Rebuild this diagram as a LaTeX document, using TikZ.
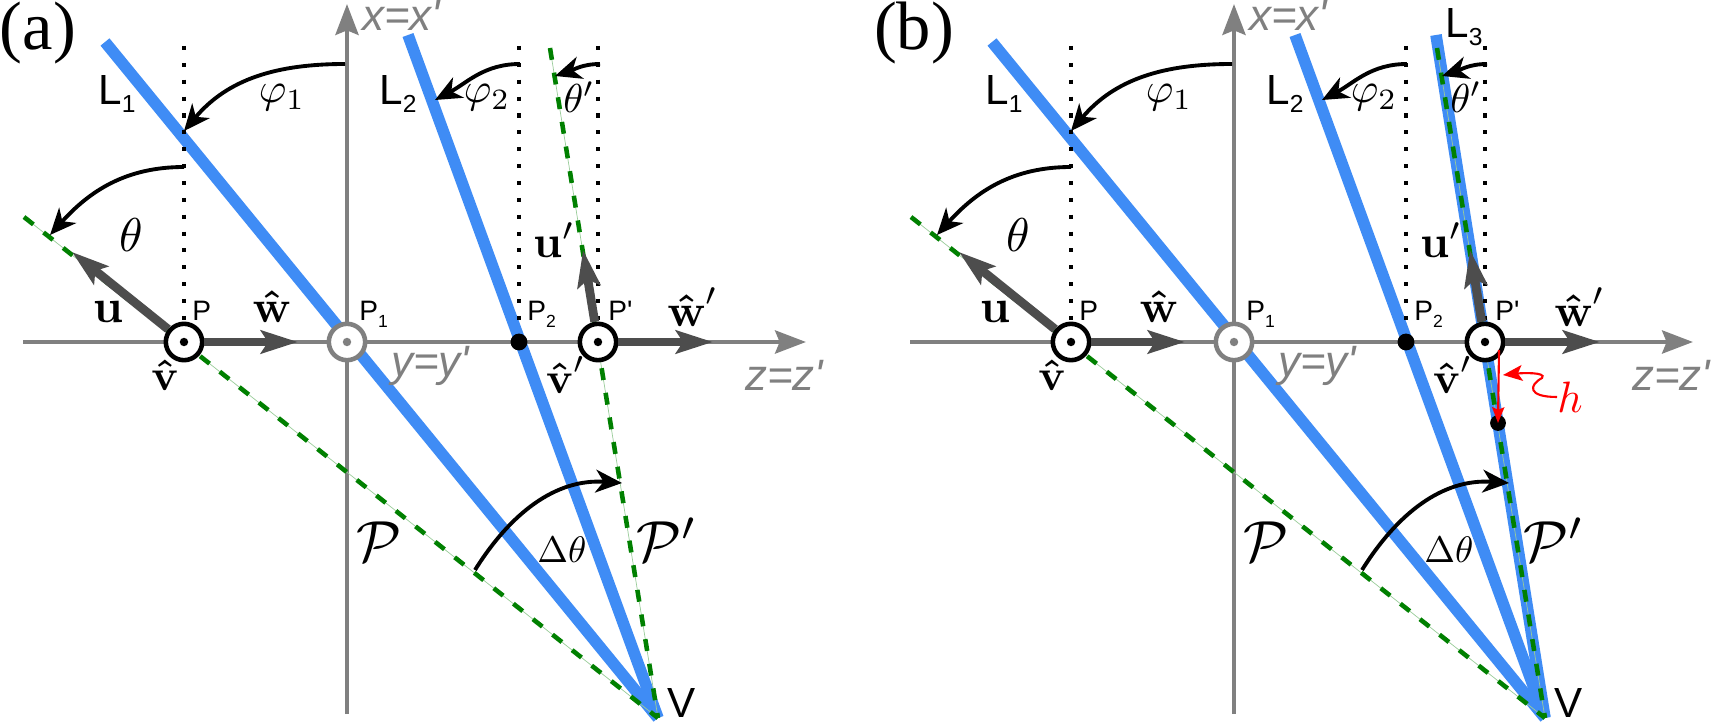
\documentclass[tikz,border=0pt]{standalone}
\usepackage{amsmath,amsfonts,amssymb}
\usepackage[no-math]{fontspec}
\usetikzlibrary{calc,arrows.meta}
\newfontfamily\labfont{Liberation Sans}
\newfontfamily\tagfont{Liberation Serif}
\newcommand{\Lname}[1]{L\raisebox{-4.5pt}{\fontsize{14}{14}\selectfont #1}}
\newcommand{\Pname}[1]{P\raisebox{-4.5pt}{\fontsize{10}{10}\selectfont #1}}
\definecolor{axisgray}{HTML}{808080}
\definecolor{vecgray}{HTML}{4D4D4D}
\definecolor{lineblue}{HTML}{3F8CF5}
\definecolor{planegreen}{HTML}{008000}
\tikzset{
  axis/.style={draw=axisgray,line width=2.8pt,-{Stealth[length=17.5pt,width=13pt,inset=2.5pt]}},
  ray/.style={draw=lineblue,line width=6.6pt},
  plane/.style={draw=planegreen,line width=2.6pt,dash pattern=on 6.8pt off 7.4pt},
  planethin/.style={draw=planegreen!40,line width=0.4pt},
  dots/.style={draw=black,line width=2.3pt,dash pattern=on 2.3pt off 7.3pt},
  angarrow/.style={draw=black,line width=2.2pt,-{Stealth[length=15pt,width=13pt,inset=4.5pt]}},
  vec/.style={draw=vecgray,line width=5pt,-{Stealth[length=21pt,width=13pt,inset=4pt]}},
  ring/.style={shape=circle,draw=#1,fill=white,line width=2.6pt,inner sep=0pt,minimum size=20.7pt,
    path picture={\fill[#1] (path picture bounding box.center) circle (2.4pt);}},
  hit/.style={shape=circle,fill=black,draw=none,inner sep=0pt,minimum size=#1},
  sans/.style={font=\labfont\fontsize{24}{24}\selectfont,anchor=base west,inner sep=0pt},
  smallsans/.style={font=\labfont\fontsize{16}{16}\selectfont,anchor=base west,inner sep=0pt},
  grayital/.style={font=\labfont\itshape\fontsize{25}{25}\selectfont,text=axisgray,anchor=base west,inner sep=0pt},
  sym/.style={scale=#1,inner sep=0pt}
}
\begin{document}
\begin{tikzpicture}[x=0.02cm,y=-0.02cm]
  \useasboundingbox (0,0) rectangle (1725,726);
  \foreach \pn/\dx/\lbl/\lblx in {a/0/(a)/38,b/887/(b)/27} {
  \begin{scope}[xshift=\dx*0.02cm,name prefix=\pn-]
    \coordinate (V) at (658,718);
    \coordinate (Ltop1) at (105,42);
    \coordinate (Ltop2) at (408,35);
    \coordinate (Ltop3) at (549,35);
    \coordinate (Gtop1) at (24,217);
    \coordinate (Gtop2) at (550,48);
    \coordinate (Xa) at (23,342);
    \coordinate (Xb) at (806,342);
    \coordinate (Ya) at (347,714);
    \coordinate (Yb) at (347,4);
    % axes and lines
    \draw[axis] (Xa) -- (Xb);
    \draw[axis] (Ya) -- (Yb);
    \draw[ray] (Ltop1) -- (V);
    \draw[ray] (Ltop2) -- (V);
    \ifnum\dx>0
      \draw[ray] (Ltop3) -- (V);
    \fi
    \draw[planethin] (Gtop1) -- (V);
    \draw[plane] (Gtop1) -- (V);
    \draw[planethin] (Gtop2) -- (V);
    \draw[plane] (Gtop2) -- (V);
    \draw[dots] (184,46) coordinate (Da) -- (184,325) coordinate (Db);
    \draw[dots] (519,46) coordinate (Dc) -- (519,325) coordinate (Dd);
    \draw[dots] (598,46) coordinate (De) -- (598,325) coordinate (Df);
    % points on the z axis
    \node[ring=black] (P) at (184,342) {};
    \node[ring=axisgray] (Pa) at (347,342) {};
    \node[hit=9.6pt] (Pb) at (519,342) {};
    \node[ring=black] (Pc) at (598,342) {};
    % unit vectors
    \coordinate (Utip) at (72,252);
    \coordinate (Wtip) at (298,342);
    \coordinate (UUtip) at (583,250);
    \coordinate (WWtip) at (713,342);
    \draw[vec] (P) -- (Utip);
    \draw[vec] (P) -- (Wtip);
    \draw[vec] (Pc) -- (UUtip);
    \draw[vec] (Pc) -- (WWtip);
    % angles
    \coordinate (Ang1a) at (345,64);
    \coordinate (Ang1b) at (184,131);
    \coordinate (Ang2a) at (184,167);
    \coordinate (Ang2b) at (50,235);
    \coordinate (Ang3a) at (520,64);
    \coordinate (Ang3b) at (435,100);
    \coordinate (Ang4a) at (600,64);
    \coordinate (Ang4b) at (555,76);
    \coordinate (Ang5a) at (475,570);
    \coordinate (Ang5b) at (622,483);
    \draw[angarrow] (Ang1a) to[out=180,in=50] (Ang1b);
    \draw[angarrow] (Ang2a) to[out=180,in=48] (Ang2b);
    \draw[angarrow] (Ang3a) to[out=180,in=28] (Ang3b);
    \draw[angarrow] (Ang4a) to[out=180,in=18] (Ang4b);
    \draw[angarrow] (Ang5a) to[out=58,in=176] (Ang5b);
    % labels
    \node[font=\tagfont\fontsize{39}{39}\selectfont,inner sep=0pt] (tag) at (\lblx,33) {\lbl};
    \node[grayital] (xlab) at (362,31) {x=x'};
    \node[grayital] (ylab) at (391,377) {y=y'};
    \node[grayital] (zlab) at (745,390) {z=z'};
    \node[sans] (Laba) at (98,105) {\Lname{1}};
    \node[sans] (Labb) at (379,105) {\Lname{2}};
    \node[sans] (Vlab) at (667,717) {V};
    \node[smallsans] (Pl) at (192,320) {P};
    \node[smallsans] (Pal) at (359,320) {\Pname{1}};
    \node[smallsans] (Pbl) at (527,320) {\Pname{2}};
    \node[smallsans] (Pcl) at (608,320) {P'};
    \node[sym=2.4] (phia) at (282,98) {$\varphi_1$};
    \node[sym=2.4] (phib) at (487,98) {$\varphi_2$};
    \node[sym=2.3] (thetap) at (579,97) {$\theta'$};
    \node[sym=2.7] (theta) at (131,235) {$\theta$};
    \node[sym=2.7] (ulab) at (108,312) {$\mathbf{u}$};
    \node[sym=2.6] (uplab) at (554,240) {$\mathbf{u}'$};
    \node[sym=2.6] (wlab) at (272,307) {$\boldsymbol{\hat{\mathbf{w}}}$};
    \node[sym=2.6] (wplab) at (693,307) {$\boldsymbol{\hat{\mathbf{w}}}'$};
    \node[sym=2.5] (vlab) at (165,375) {$\boldsymbol{\hat{\mathbf{v}}}$};
    \node[sym=2.5] (vplab) at (566,375) {$\boldsymbol{\hat{\mathbf{v}}}'$};
    \node[sym=3.3] (planea) at (379,542) {$\mathcal{P}$};
    \node[sym=3.3] (planeb) at (667,540) {$\mathcal{P}'$};
    \node[sym=2.1] (dtheta) at (562,550) {$\Delta\theta$};
    \ifnum\dx>0
      \node[sans] (Labc) at (558,38) {\Lname{3}};
      \node[hit=9pt] (Hdot) at (611,423) {};
      \coordinate (Htop) at (612,350);
      \coordinate (Hwave) at (670,397);
      \coordinate (Hpoint) at (616,375);
      \draw[draw=red,line width=1.2pt,-{Stealth[length=9pt,width=7pt,inset=1.5pt]}] (Htop) -- (Hdot.center);
      \draw[draw=red,line width=1.2pt,-{Stealth[length=11pt,width=9pt,inset=2.5pt]}] (Hwave) .. controls (640,397) and (642,385) .. (655,378) .. controls (660,372) and (635,373) .. (Hpoint);
      \node[sym=2.5,text=red] (hlab) at (683,397) {$h$};
    \fi
  \end{scope}
  }
\end{tikzpicture}
\end{document}
